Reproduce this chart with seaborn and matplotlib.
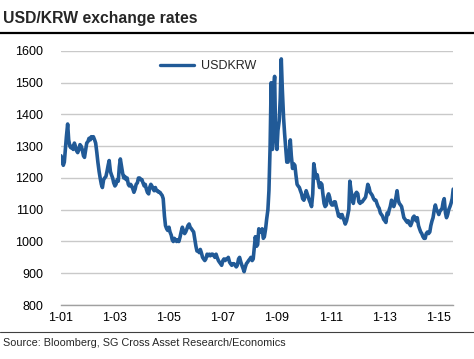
import numpy as np
import pandas as pd
import matplotlib
matplotlib.use("Agg")
import matplotlib.pyplot as plt
import matplotlib.dates as mdates
import matplotlib.ticker as ticker
import seaborn as sns

# semi-monthly readings of USD/KRW (1st and 15th of each month)
usdkrw_2001 = [1270, 1260, 1240, 1250, 1290, 1330, 1370, 1320, 1300, 1295, 1300, 1290,
               1310, 1300, 1285, 1280, 1290, 1305, 1300, 1290, 1270, 1265, 1290, 1310]
usdkrw_2002 = [1315, 1325, 1320, 1330, 1325, 1330, 1320, 1310, 1280, 1250, 1220, 1200,
               1180, 1170, 1195, 1200, 1205, 1220, 1240, 1255, 1220, 1210, 1200, 1185]
usdkrw_2003 = [1175, 1180, 1195, 1190, 1235, 1260, 1235, 1215, 1200, 1205, 1195, 1200,
               1180, 1175, 1180, 1175, 1165, 1155, 1165, 1180, 1185, 1200, 1200, 1195]
usdkrw_2004 = [1195, 1185, 1175, 1180, 1165, 1155, 1150, 1170, 1180, 1175, 1165, 1160,
               1170, 1160, 1160, 1155, 1155, 1150, 1145, 1135, 1080, 1050, 1040, 1035]
usdkrw_2005 = [1045, 1030, 1020, 1005, 1000, 1010, 1005, 1000, 1005, 1000, 1015, 1030,
               1045, 1035, 1025, 1030, 1040, 1050, 1055, 1045, 1040, 1035, 1030, 1010]
usdkrw_2006 = [985, 970, 970, 965, 975, 965, 950, 945, 940, 945, 960, 955,
               960, 955, 960, 960, 955, 950, 960, 950, 940, 935, 930, 925]
usdkrw_2007 = [940, 945, 940, 945, 945, 950, 935, 930, 925, 930, 930, 925,
               920, 925, 945, 950, 935, 925, 915, 905, 920, 930, 935, 940]
usdkrw_2008 = [945, 950, 940, 945, 980, 1015, 985, 990, 1040, 1030, 1030, 1040,
               1010, 1015, 1040, 1070, 1100, 1160, 1300, 1500, 1290, 1470, 1520, 1330]
usdkrw_2009 = [1290, 1350, 1380, 1450, 1575, 1480, 1390, 1340, 1290, 1250, 1250, 1275,
               1320, 1270, 1230, 1245, 1240, 1210, 1180, 1175, 1170, 1160, 1150, 1135]
usdkrw_2010 = [1130, 1140, 1160, 1150, 1140, 1130, 1120, 1110, 1150, 1245, 1220, 1200,
               1210, 1190, 1170, 1185, 1180, 1150, 1120, 1110, 1115, 1140, 1150, 1140]
usdkrw_2011 = [1120, 1115, 1115, 1125, 1125, 1110, 1095, 1080, 1085, 1075, 1085, 1075,
               1065, 1055, 1065, 1080, 1100, 1190, 1160, 1140, 1120, 1140, 1150, 1155]
usdkrw_2012 = [1150, 1125, 1120, 1125, 1125, 1130, 1135, 1140, 1160, 1180, 1170, 1155,
               1150, 1145, 1135, 1130, 1130, 1120, 1110, 1105, 1090, 1085, 1080, 1070]
usdkrw_2013 = [1065, 1060, 1090, 1085, 1100, 1110, 1130, 1125, 1110, 1120, 1140, 1160,
               1130, 1120, 1115, 1110, 1090, 1075, 1070, 1065, 1060, 1065, 1055, 1050]
usdkrw_2014 = [1060, 1075, 1080, 1070, 1065, 1075, 1050, 1040, 1030, 1025, 1015, 1010,
               1010, 1025, 1030, 1025, 1030, 1050, 1065, 1075, 1100, 1115, 1100, 1095]
usdkrw_2015 = [1085, 1095, 1100, 1105, 1125, 1135, 1090, 1075, 1085, 1100, 1110, 1120,
               1135, 1165]

y_ticks = [800, 900, 1000, 1100, 1200, 1300, 1400, 1500, 1600]
x_tick_years = [2001, 2003, 2005, 2007, 2009, 2011, 2013, 2015]

values = (usdkrw_2001 + usdkrw_2002 + usdkrw_2003 + usdkrw_2004 + usdkrw_2005
          + usdkrw_2006 + usdkrw_2007 + usdkrw_2008 + usdkrw_2009 + usdkrw_2010
          + usdkrw_2011 + usdkrw_2012 + usdkrw_2013 + usdkrw_2014 + usdkrw_2015)
dates = pd.date_range("2001-01-01", periods=len(values), freq="SMS")
df = pd.DataFrame({"date": dates, "USDKRW": values})

sns.set_theme(style="white")
plt.rcParams["font.family"] = ["Liberation Sans", "DejaVu Sans"]

line_color = "#215A97"
grid_color = "#C9C9C9"

fig = plt.figure(figsize=(4.74, 3.59), dpi=100)
ax = fig.add_axes([61 / 474, 1 - 305 / 359, 392 / 474, 254 / 359])

sns.lineplot(data=df, x="date", y="USDKRW", ax=ax, color=line_color,
             linewidth=2.6, label="USDKRW")

ax.set_ylim(800, 1600)
ax.set_xlim(pd.Timestamp("2001-01-01"), pd.Timestamp("2015-07-12"))
ax.set_yticks(y_ticks)
ax.set_xticks([pd.Timestamp(f"{y}-01-01") for y in x_tick_years])
ax.xaxis.set_major_formatter(ticker.FuncFormatter(
    lambda v, pos: f"{mdates.num2date(v).month}-{mdates.num2date(v).year % 100:02d}"))

ax.grid(axis="y", color=grid_color, linewidth=1.0)
ax.set_axisbelow(True)
for s in ["left", "right", "top"]:
    ax.spines[s].set_visible(False)
ax.spines["bottom"].set_color("#A0A0A0")
ax.spines["bottom"].set_linewidth(1.0)

ax.tick_params(axis="y", length=0, pad=13, labelsize=9, labelcolor="black")
ax.tick_params(axis="x", direction="in", length=3, width=0.8, color="#A0A0A0",
               pad=5, labelsize=9, labelcolor="black")
ax.set_xlabel("")
ax.set_ylabel("")

leg = ax.legend(loc="center left", bbox_to_anchor=(0.252, 0.941), frameon=False,
                fontsize=9, handlelength=2.7, handletextpad=0.6,
                borderpad=0, borderaxespad=0)
for h in leg.get_lines():
    h.set_linewidth(2.4)

# title with a heavy rule underneath, source note below a thin rule
fig.text(3 / 474, 1 - 18 / 359, "USD/KRW exchange rates", fontsize=11.3,
         fontweight="bold", ha="left", va="center")
fig.add_artist(plt.Line2D([0, 1], [1 - 33 / 359, 1 - 33 / 359], color="black",
                          linewidth=1.6, transform=fig.transFigure))
fig.add_artist(plt.Line2D([0, 1], [1 - 332 / 359, 1 - 332 / 359], color="#404040",
                          linewidth=0.8, transform=fig.transFigure))
fig.text(3 / 474, 1 - 343 / 359, "Source: Bloomberg, SG Cross Asset Research/Economics",
         fontsize=7.8, ha="left", va="center")

fig.savefig("out.png", dpi=100)
